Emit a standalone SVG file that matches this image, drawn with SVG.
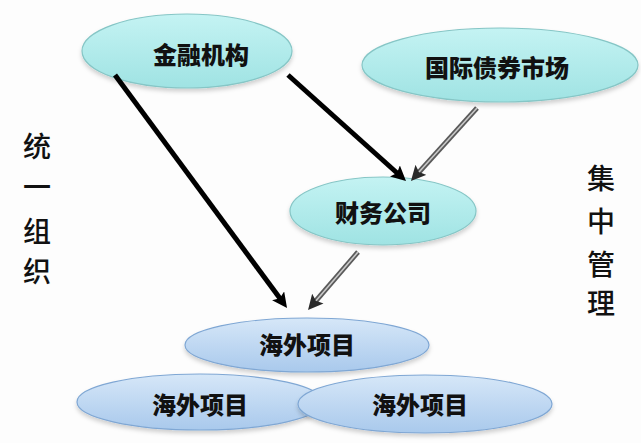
<svg xmlns="http://www.w3.org/2000/svg" width="641" height="443" viewBox="0 0 641 443">
<style>
.node-cyan{fill:url(#gCyan);stroke:#86c6c6;stroke-width:1.2}
.node-blue{fill:url(#gBlue);stroke:#7fa7d4;stroke-width:1.2}
.lbl{font-family:"Noto Sans CJK SC","Noto Sans",sans-serif;font-weight:900;font-size:24px;fill:#111;text-anchor:middle;dominant-baseline:central}
.side{font-family:"Noto Sans CJK SC","Noto Sans",sans-serif;font-weight:500;font-size:28px;fill:#111;text-anchor:middle;dominant-baseline:central}
.blk{stroke:#000;stroke-width:5;fill:none;stroke-linecap:butt}
.gry{stroke:#5a5a5a;stroke-width:5;fill:none}
.gryin{stroke:#c9c9c9;stroke-width:1.6;fill:none}
</style>
<defs>
<linearGradient id="gCyan" x1="0" y1="0" x2="0" y2="1">
<stop offset="0" stop-color="#c4f3f3"/>
<stop offset="1" stop-color="#9fe3e3"/>
</linearGradient>
<linearGradient id="gBlue" x1="0" y1="0" x2="0" y2="1">
<stop offset="0" stop-color="#d6e7f8"/>
<stop offset="1" stop-color="#a9c9ec"/>
</linearGradient>
<filter id="sh" x="-10%" y="-20%" width="120%" height="150%">
<feDropShadow dx="0" dy="3" stdDeviation="2" flood-color="#000" flood-opacity="0.18"/>
</filter>
<marker id="ahB" viewBox="0 0 10 10" markerWidth="3" markerHeight="3" refX="3" refY="5" orient="auto" markerUnits="strokeWidth">
<path d="M0,0 L10,5 L0,10 L2,5 Z" fill="#000"/>
</marker>
<marker id="ahG" viewBox="0 0 10 10" markerWidth="3" markerHeight="3" refX="3" refY="5" orient="auto" markerUnits="strokeWidth">
<path d="M0,0 L10,5 L0,10 L2,5 Z" fill="#2a2a2a"/>
</marker>
</defs>
<rect width="641" height="443" fill="#fdfdfd"/>

<g id="n-jinrong">
<ellipse class="node-cyan" filter="url(#sh)" cx="187" cy="51" rx="105" ry="37"/>
<text class="lbl" x="201" y="53">金融机构</text>
</g>
<g id="n-guoji">
<ellipse class="node-cyan" filter="url(#sh)" cx="500" cy="65" rx="138" ry="37"/>
<text class="lbl" x="497" y="66">国际债券市场</text>
</g>
<g id="n-caiwu">
<ellipse class="node-cyan" filter="url(#sh)" cx="383" cy="211" rx="93" ry="34"/>
<text class="lbl" x="383" y="211">财务公司</text>
</g>
<g id="n-haiwai-left">
<ellipse class="node-blue" filter="url(#sh)" cx="200" cy="402" rx="123" ry="28"/>
<text class="lbl" x="200" y="403">海外项目</text>
</g>
<g id="n-haiwai-right">
<ellipse class="node-blue" filter="url(#sh)" cx="425" cy="404" rx="127" ry="29"/>
<text class="lbl" x="420" y="403">海外项目</text>
</g>
<g id="n-haiwai-top">
<ellipse class="node-blue" filter="url(#sh)" cx="307" cy="345" rx="122" ry="27"/>
<text class="lbl" x="307" y="343">海外项目</text>
</g>

<g id="connectors">
<line class="blk" x1="115" y1="75" x2="280.8" y2="299.5" marker-end="url(#ahB)"/>
<line class="blk" x1="288" y1="75" x2="398.2" y2="174" marker-end="url(#ahB)"/>
<line class="gry" x1="477" y1="108" x2="418" y2="173.2" marker-end="url(#ahG)"/>
<line class="gryin" x1="477" y1="108" x2="419" y2="172"/>
<line class="gry" x1="358" y1="252" x2="314.9" y2="302" marker-end="url(#ahG)"/>
<line class="gryin" x1="358" y1="252" x2="316" y2="300.7"/>
</g>

<g id="side-left">
<text class="side" x="37" y="145">统</text>
<text class="side" x="37" y="186">一</text>
<text class="side" x="37" y="230">组</text>
<text class="side" x="37" y="270">织</text>
</g>
<g id="side-right">
<text class="side" x="601" y="177">集</text>
<text class="side" x="601" y="220">中</text>
<text class="side" x="601" y="263">管</text>
<text class="side" x="601" y="302">理</text>
</g>
</svg>
